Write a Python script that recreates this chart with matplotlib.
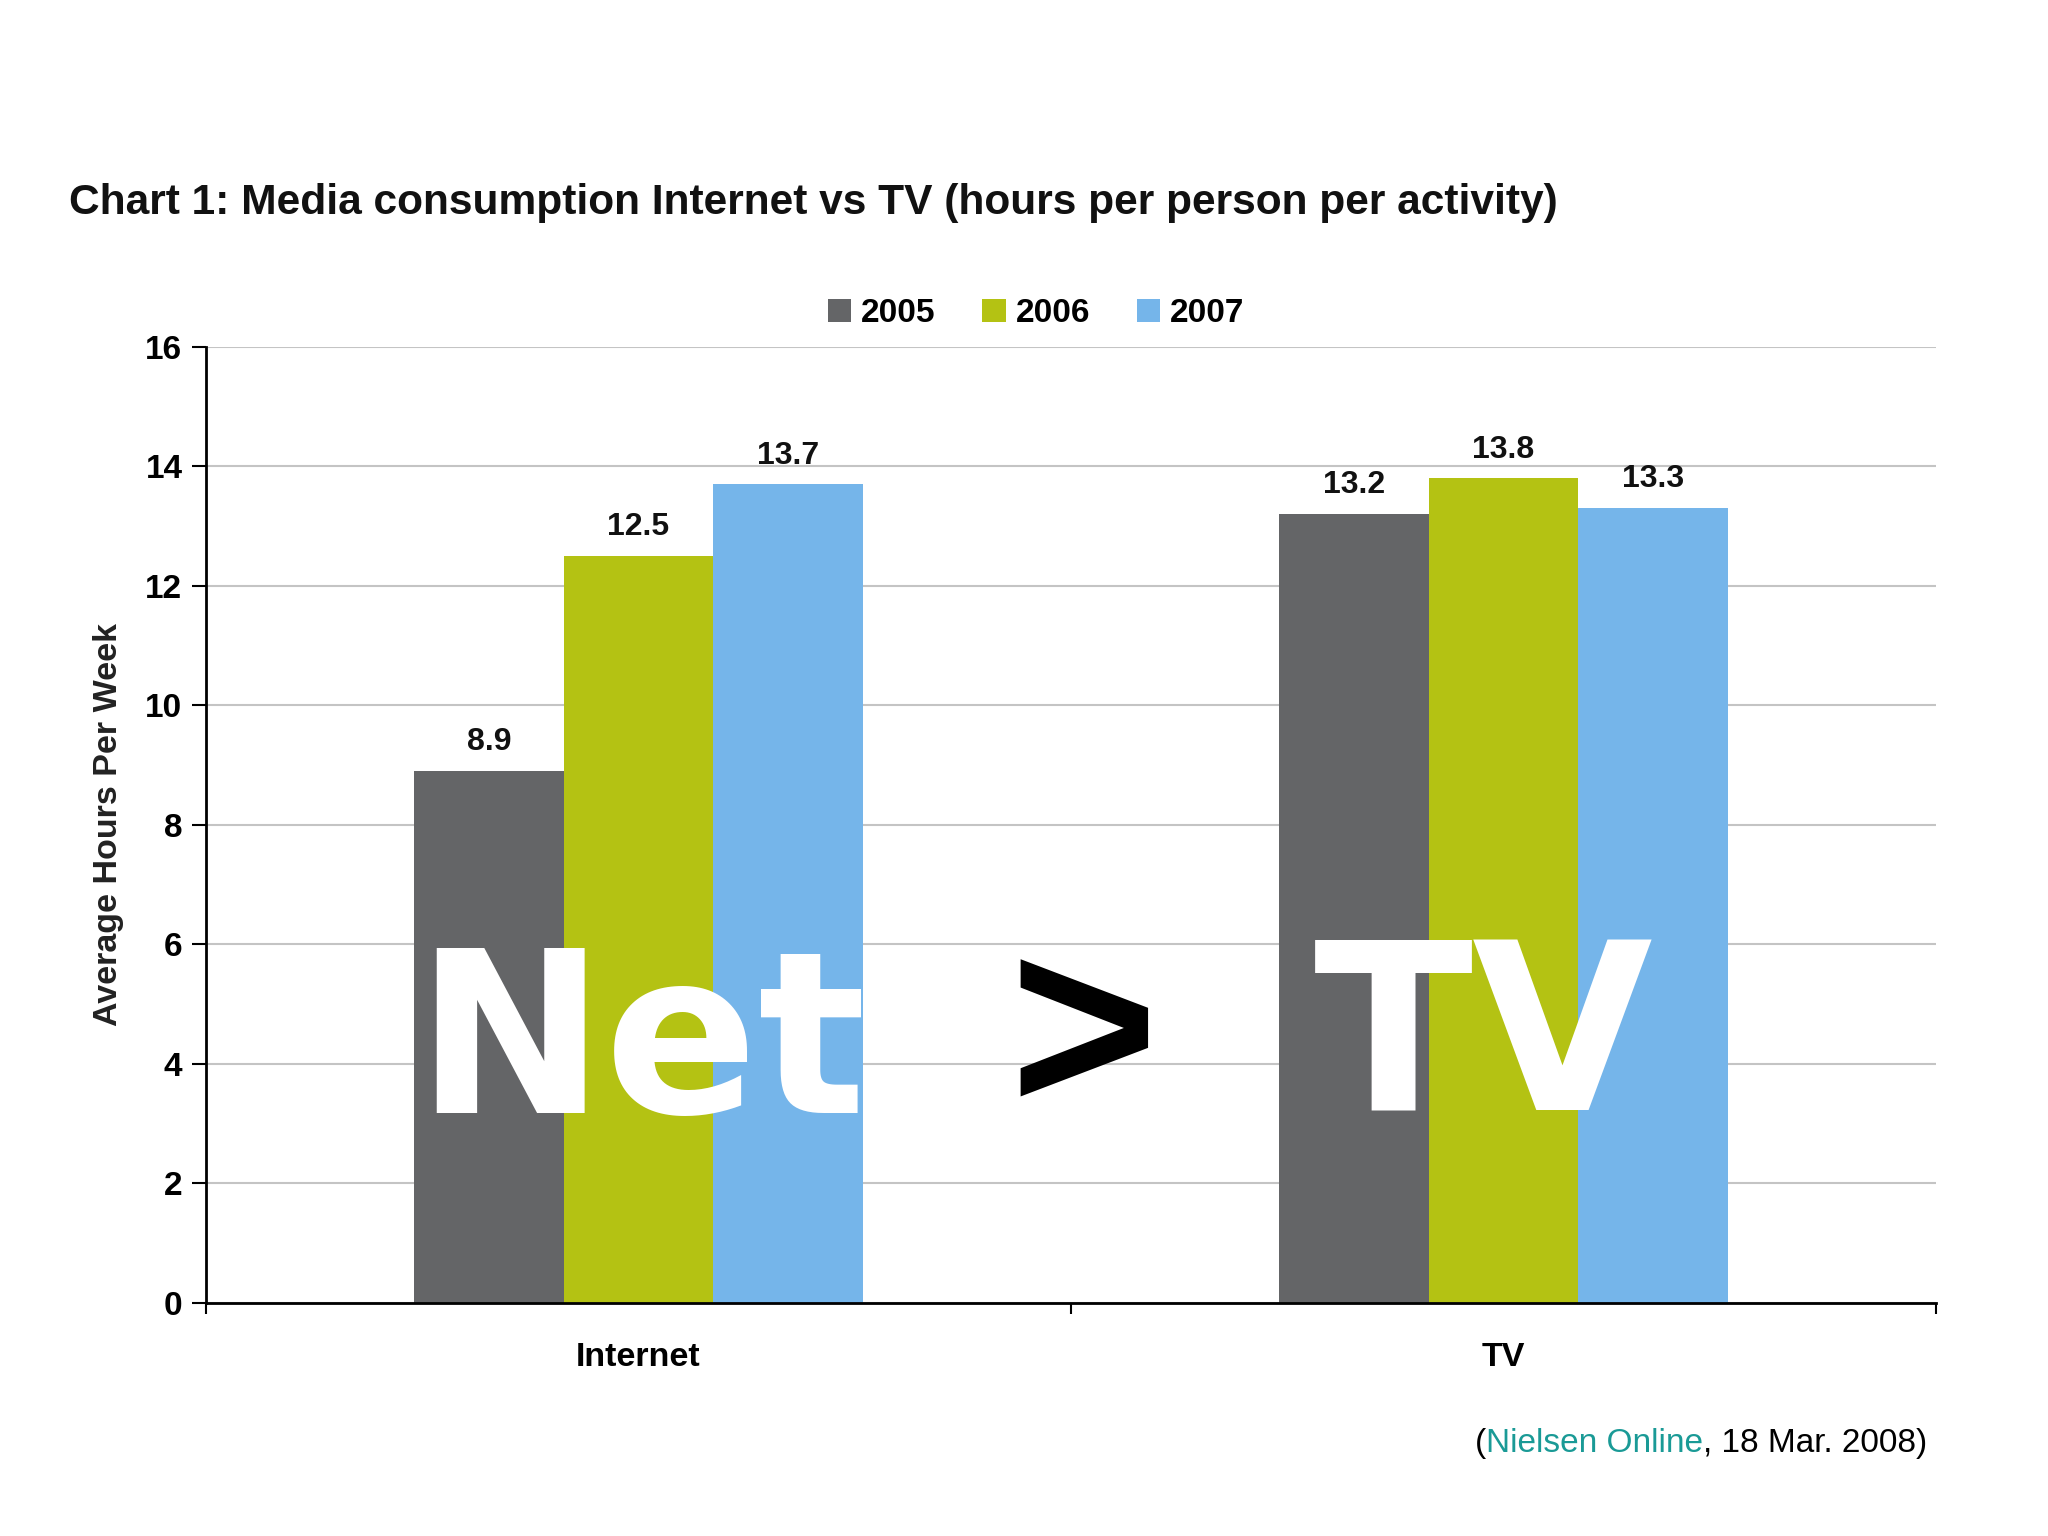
import numpy as np
import matplotlib.pyplot as plt

categories = ["Internet", "TV"]
years = ["2005", "2006", "2007"]
hours_2005 = [8.9, 13.2]
hours_2006 = [12.5, 13.8]
hours_2007 = [13.7, 13.3]
colors = ["#646567", "#b4c213", "#75b5ea"]

plt.rcParams['font.family'] = ['Liberation Sans', 'DejaVu Sans']

fig = plt.figure(figsize=(20.48, 15.36), dpi=100)
ax = fig.add_axes([0.1006, 0.1517, 0.8447, 0.6224])

x = np.arange(len(categories))
w = 0.173
series = [hours_2005, hours_2006, hours_2007]
for i, (vals, yr, c) in enumerate(zip(series, years, colors)):
    bars = ax.bar(x + (i - 1) * w, vals, w, color=c, label=yr, zorder=2)
    for b, v in zip(bars, vals):
        ax.annotate(f"{v:.1f}", (b.get_x() + b.get_width() / 2, v),
                    xytext=(0, 10), textcoords='offset points',
                    ha='center', va='bottom', fontsize=23, fontweight='bold',
                    color='#111111')

ax.set_xlim(-0.5, 1.5)
ax.set_ylim(0, 16)
ax.set_yticks(range(0, 17, 2))
ax.tick_params(axis='y', labelsize=24, length=10, width=1.5, pad=7)
for t in ax.get_yticklabels():
    t.set_fontweight('bold')
ax.yaxis.grid(True, color='#c4c4c4', linewidth=1.5, zorder=0)
ax.set_axisbelow(True)

ax.set_xticks([-0.5, 0.5, 1.5])
ax.set_xticklabels([])
ax.tick_params(axis='x', which='major', length=8, width=1.5)
ax.set_xticks(x, minor=True)
ax.set_xticklabels(categories, minor=True, fontsize=24.5, fontweight='bold')
ax.tick_params(axis='x', which='minor', length=0, pad=28)

for s in ['top', 'right']:
    ax.spines[s].set_visible(False)
ax.spines['left'].set_linewidth(2)
ax.spines['bottom'].set_linewidth(2)

fig.text(0.053, 0.463, "Average Hours Per Week", rotation=90, ha='center',
         va='center', fontsize=24.5, fontweight='bold', color='#222222')

fig.text(0.0337, 0.868, "Chart 1: Media consumption Internet vs TV (hours per person per activity)",
         fontsize=30.6, fontweight='bold', va='center', ha='left', color='#111111')

fig.legend(loc='center', bbox_to_anchor=(0.506, 0.796), ncol=3, frameon=False,
           prop={'size': 24, 'weight': 'bold'}, handlelength=0.7, handleheight=0.7,
           handletextpad=0.3, columnspacing=1.4)

# big overlay words
fig.text(0.3127, 0.2754, "Net", ha='center', va='baseline', fontsize=163,
         fontweight='bold', color='white', family='DejaVu Sans')
fig.text(0.529, 0.2754, ">", ha='center', va='baseline', fontsize=183,
         fontweight='bold', color='black')
fig.text(0.7246, 0.2773, "TV", ha='center', va='baseline', fontsize=168,
         fontweight='bold', color='white', family='DejaVu Sans')

fig.text(0.941, 0.0605, ", 18 Mar. 2008)", ha='right', va='center', fontsize=24, color='black')
src = fig.text(0.941, 0.0605, "(Nielsen Online, 18 Mar. 2008)", ha='right', va='center',
               fontsize=24, color='none')
fig.canvas.draw()
bb = src.get_window_extent()
fig.text(bb.x0 / fig.bbox.width, 0.0605, "(", ha='left', va='center', fontsize=24, color='black')
paren = fig.texts[-1].get_window_extent()
fig.text(paren.x1 / fig.bbox.width, 0.0605, "Nielsen Online", ha='left', va='center',
         fontsize=24, color='#1a9a96')
src.remove()

fig.savefig("out.png", dpi=100, facecolor='white')
